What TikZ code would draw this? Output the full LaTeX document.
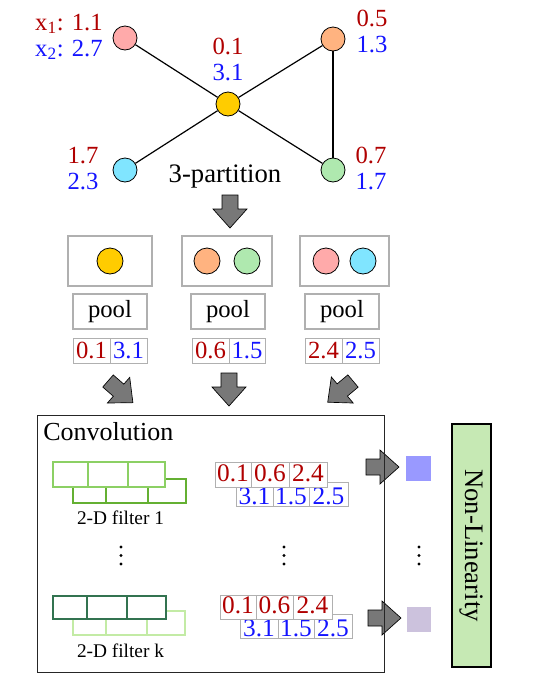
\documentclass[tikz,border=0pt]{standalone}
\usepackage{fontspec}
\setmainfont{Liberation Serif}
\definecolor{xone}{RGB}{176, 0, 0}
\definecolor{xtwo}{RGB}{20, 20, 255}
\definecolor{cellgray}{RGB}{176, 176, 176}
\definecolor{arrowgray}{RGB}{120, 120, 120}
\definecolor{vpink}{RGB}{255, 170, 170}
\definecolor{vgold}{RGB}{255, 204, 0}
\definecolor{vorange}{RGB}{255, 179, 128}
\definecolor{vgreen}{RGB}{175, 233, 175}
\definecolor{vcyan}{RGB}{128, 229, 255}
\definecolor{fltlight}{RGB}{140, 208, 100}
\definecolor{fltmid}{RGB}{100, 176, 50}
\definecolor{fltdark}{RGB}{50, 115, 80}
\definecolor{fltpale}{RGB}{195, 235, 165}
\definecolor{outblue}{RGB}{153, 153, 255}
\definecolor{outlilac}{RGB}{204, 194, 221}
\definecolor{nlgreen}{RGB}{198, 233, 180}

\tikzset{
	vertex/.style={circle, draw=black, line width=0.6pt, minimum size=18pt, inner sep=0},
	member/.style={vertex, minimum size=19.5pt},
	edge/.style={line width=0.9pt},
	numlabel/.style={inner sep=0, align=center, font=\fontsize{18.5}{19.5}\selectfont},
	graybox/.style={draw=cellgray, line width=0.9pt},
	valcell/.style={draw=cellgray, fill=white, line width=0.75pt},
	valnum/.style={inner sep=0, font=\fontsize{19}{19}\selectfont},
	fltcell/.style={fill=white, line width=0.9pt},
	blockarr/.pic={
		\filldraw [draw=black, fill=arrowgray, line width=0.5pt]
			(0,-8) -- (14,-8) -- (14,-17) -- (33,0) -- (14,17) -- (14,8) -- (0,8) -- cycle;
	}
}

\begin{document}
\begin{tikzpicture}[x=0.75pt, y=-0.75pt]
			\useasboundingbox (0,0) rectangle (534,679);

			% graph
			\node[vertex, fill=vpink] (pk) at (125,38) {};
			\node[vertex, fill=vgold] (gd) at (228,104) {};
			\node[vertex, fill=vorange] (og) at (333,39) {};
			\node[vertex, fill=vcyan] (cy) at (125,170) {};
			\node[vertex, fill=vgreen] (gn) at (333,170) {};
			\draw[edge] (pk) -- (gd);
			\draw[edge] (gd) -- (og);
			\draw[edge] (gd) -- (cy);
			\draw[edge] (gd) -- (gn);
			\draw[edge] (og) -- (gn);

			\node[numlabel, anchor=east, align=right] (pklab) at (103,37) {\textcolor{xone}{x\textsubscript{1}: 1.1}\\\textcolor{xtwo}{x\textsubscript{2}: 2.7}};
			\node[numlabel] (gdlab) at (228,59.5) {\textcolor{xone}{0.1}\\\textcolor{xtwo}{3.1}};
			\node[numlabel] (oglab) at (372,31.5) {\textcolor{xone}{0.5}\\\textcolor{xtwo}{1.3}};
			\node[numlabel] (cylab) at (83,168.5) {\textcolor{xone}{1.7}\\\textcolor{xtwo}{2.3}};
			\node[numlabel] (gnlab) at (371,168) {\textcolor{xone}{0.7}\\\textcolor{xtwo}{1.7}};
			\node[inner sep=0, font=\fontsize{20}{20}\selectfont] (part) at (225,177) {3-partition};

			\pic[rotate=-90] at (230,195) {blockarr};

			% partitions
			\draw[graybox] (68,236) rectangle (152,286);
			\draw[graybox] (182,236) rectangle (272,286);
			\draw[graybox] (300,236) rectangle (389,286);
			\node[member, fill=vgold] (ma) at (110,261) {};
			\node[member, fill=vorange] (mb) at (207,261) {};
			\node[member, fill=vgreen] (mc) at (247,261) {};
			\node[member, fill=vpink] (md) at (326,261) {};
			\node[member, fill=vcyan] (me) at (363,261) {};

			\draw[graybox] (73,294) rectangle (147,329) node[midway, numlabel] (poola) {pool};
			\draw[graybox] (191,294) rectangle (265,329) node[midway, numlabel] (poolb) {pool};
			\draw[graybox] (305,294) rectangle (379,329) node[midway, numlabel] (poolc) {pool};

			\filldraw[valcell] (73,338) rectangle (110,363) node[midway, numlabel, text=xone] (pa1) {0.1};
			\filldraw[valcell] (110,338) rectangle (147,363) node[midway, numlabel, text=xtwo] (pa2) {3.1};
			\filldraw[valcell] (192,338) rectangle (229,363) node[midway, numlabel, text=xone] (pb1) {0.6};
			\filldraw[valcell] (229,338) rectangle (265,363) node[midway, numlabel, text=xtwo] (pb2) {1.5};
			\filldraw[valcell] (305,338) rectangle (342,363) node[midway, numlabel, text=xone] (pc1) {2.4};
			\filldraw[valcell] (342,338) rectangle (379,363) node[midway, numlabel, text=xtwo] (pc2) {2.5};

			\pic[rotate=-41] at (108,381) {blockarr};
			\pic[rotate=-90] at (229,373) {blockarr};
			\pic[rotate=-140] at (353,381) {blockarr};

			% outputs
			\pic at (366,467) {blockarr};
			\pic at (368,618) {blockarr};
			\fill[outblue] (406,456) rectangle (431,481);
			\fill[outlilac] (407,607) rectangle (431,632);

			% convolution
			\draw[draw=black!85, line width=0.7pt] (37,415) rectangle (384,672);
			\node[anchor=base west, inner sep=0, font=\fontsize{19.5}{19.5}\selectfont] (conv) at (43,440) {Convolution};

			\draw[fltcell, draw=fltmid] (73,479) rectangle (106,503);
			\draw[fltcell, draw=fltmid] (106,479) rectangle (148,503);
			\draw[fltcell, draw=fltmid] (148,479) rectangle (186,503);
			\draw[fltcell, draw=fltlight] (53,462) rectangle (88,487);
			\draw[fltcell, draw=fltlight] (88,462) rectangle (128,487);
			\draw[fltcell, draw=fltlight] (128,462) rectangle (165,487);
			\node[anchor=base, inner sep=0, font=\fontsize{14.5}{14.5}\selectfont] (flta) at (120.5,524) {2-D filter 1};

			\draw[fltcell, draw=fltpale] (73,611) rectangle (106,635);
			\draw[fltcell, draw=fltpale] (106,611) rectangle (147,635);
			\draw[fltcell, draw=fltpale] (147,611) rectangle (185,635);
			\draw[fltcell, draw=fltdark] (53,596) rectangle (87,619);
			\draw[fltcell, draw=fltdark] (87,596) rectangle (127,619);
			\draw[fltcell, draw=fltdark] (127,596) rectangle (166,619);
			\node[anchor=base, inner sep=0, font=\fontsize{14.5}{14.5}\selectfont] (fltk) at (120.5,657) {2-D filter k};

			\filldraw[valcell] (236,482) rectangle (273,506) node[midway, valnum, text=xtwo, yshift=-1.5] (qa1) {3.1};
			\filldraw[valcell] (273,482) rectangle (309,506) node[midway, valnum, text=xtwo, yshift=-1.5] (qa2) {1.5};
			\filldraw[valcell] (309,482) rectangle (348,506) node[midway, valnum, text=xtwo, yshift=-1.5] (qa3) {2.5};
			\filldraw[valcell] (215,462) rectangle (251,487) node[midway, valnum, text=xone, yshift=1] (ra1) {0.1};
			\filldraw[valcell] (251,462) rectangle (289,487) node[midway, valnum, text=xone, yshift=1] (ra2) {0.6};
			\filldraw[valcell] (289,462) rectangle (327,487) node[midway, valnum, text=xone, yshift=1] (ra3) {2.4};

			\filldraw[valcell] (240,614) rectangle (278,638) node[midway, valnum, text=xtwo, yshift=-1.5] (qk1) {3.1};
			\filldraw[valcell] (278,614) rectangle (314,638) node[midway, valnum, text=xtwo, yshift=-1.5] (qk2) {1.5};
			\filldraw[valcell] (314,614) rectangle (352,638) node[midway, valnum, text=xtwo, yshift=-1.5] (qk3) {2.5};
			\filldraw[valcell] (220,595) rectangle (256,619) node[midway, valnum, text=xone, yshift=1] (rk1) {0.1};
			\filldraw[valcell] (256,595) rectangle (293,619) node[midway, valnum, text=xone, yshift=1] (rk2) {0.6};
			\filldraw[valcell] (293,595) rectangle (332,619) node[midway, valnum, text=xone, yshift=1] (rk3) {2.4};

			% vertical dots
			\fill (121,547) circle (1.2pt) (121,555.5) circle (1.2pt) (121,564) circle (1.2pt);
			\fill (284,547) circle (1.2pt) (284,555.5) circle (1.2pt) (284,564) circle (1.2pt);
			\fill (419,547) circle (1.2pt) (419,555.5) circle (1.2pt) (419,564) circle (1.2pt);

			\filldraw[draw=black, fill=nlgreen, line width=0.9pt] (452,424) rectangle (491,667);
			\node[rotate=-90, inner sep=0, font=\fontsize{20}{20}\selectfont] (nonlin) at (471.5,545.5) {Non-Linearity};
		\end{tikzpicture}
\end{document}
